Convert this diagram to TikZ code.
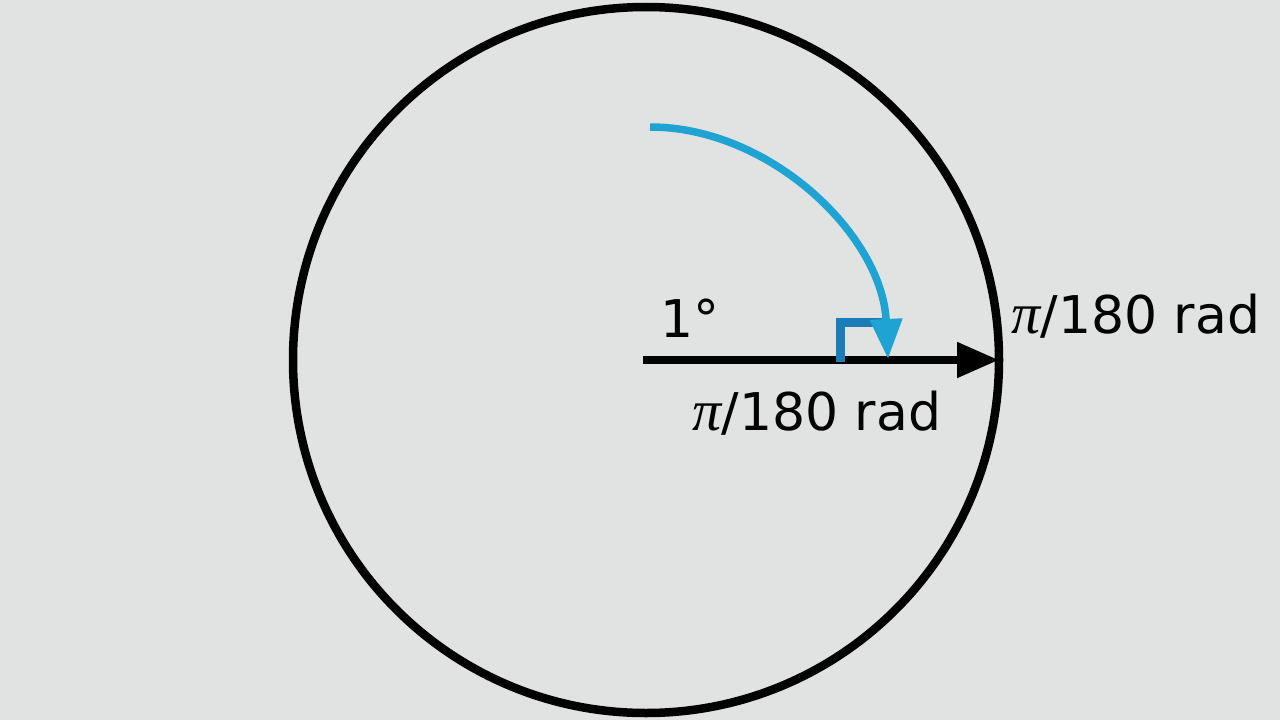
\documentclass[tikz,border=0pt]{standalone}
\usepackage{fontspec}
\setmainfont{DejaVu Sans}
\newfontfamily\pifont{Liberation Serif}
\usetikzlibrary{arrows.meta}
\definecolor{bg}{HTML}{E1E2E2}
\definecolor{arcblue}{HTML}{1FA3D2}
\definecolor{markblue}{HTML}{1A7DB8}
\newcommand{\mypi}{{\pifont\itshape\fontsize{58}{58}\selectfont π}}
\tikzset{
  lbl/.style={font=\fontsize{52}{58}\selectfont, text=black, inner sep=0pt},
}
\begin{document}
\begin{tikzpicture}[x=1pt,y=-1pt]
\fill[bg] (0,0) rectangle (1280,720);
\useasboundingbox (0,0) rectangle (1280,720);
\coordinate (O) at (646,360);
\draw[line width=8.5pt] (O) circle[radius=353];
\coordinate (E) at (999,360);
\coordinate (S) at (643,360);
\draw[line width=8pt, -{Triangle[length=42pt,width=34pt]}] (S) -- (E);
\coordinate (m1) at (840,362);
\coordinate (m2) at (840,322);
\coordinate (m3) at (882,322);
\draw[markblue, line width=9pt] (m1) -- (m2) -- (m3);
\coordinate (a0) at (650,127);
\coordinate (a1) at (888,359);
\draw[arcblue, line width=7.5pt, -{Triangle[length=40pt,width=31pt]}] (a0) .. controls (770,127) and (882,235) .. (a1);
\node[lbl] (deg) at (690,318) {1°};
\node[lbl] (rad1) at (817,413) {\mypi/180 rad};
\node[lbl] (rad2) at (1136,316) {\mypi/180 rad};
\end{tikzpicture}
\end{document}
